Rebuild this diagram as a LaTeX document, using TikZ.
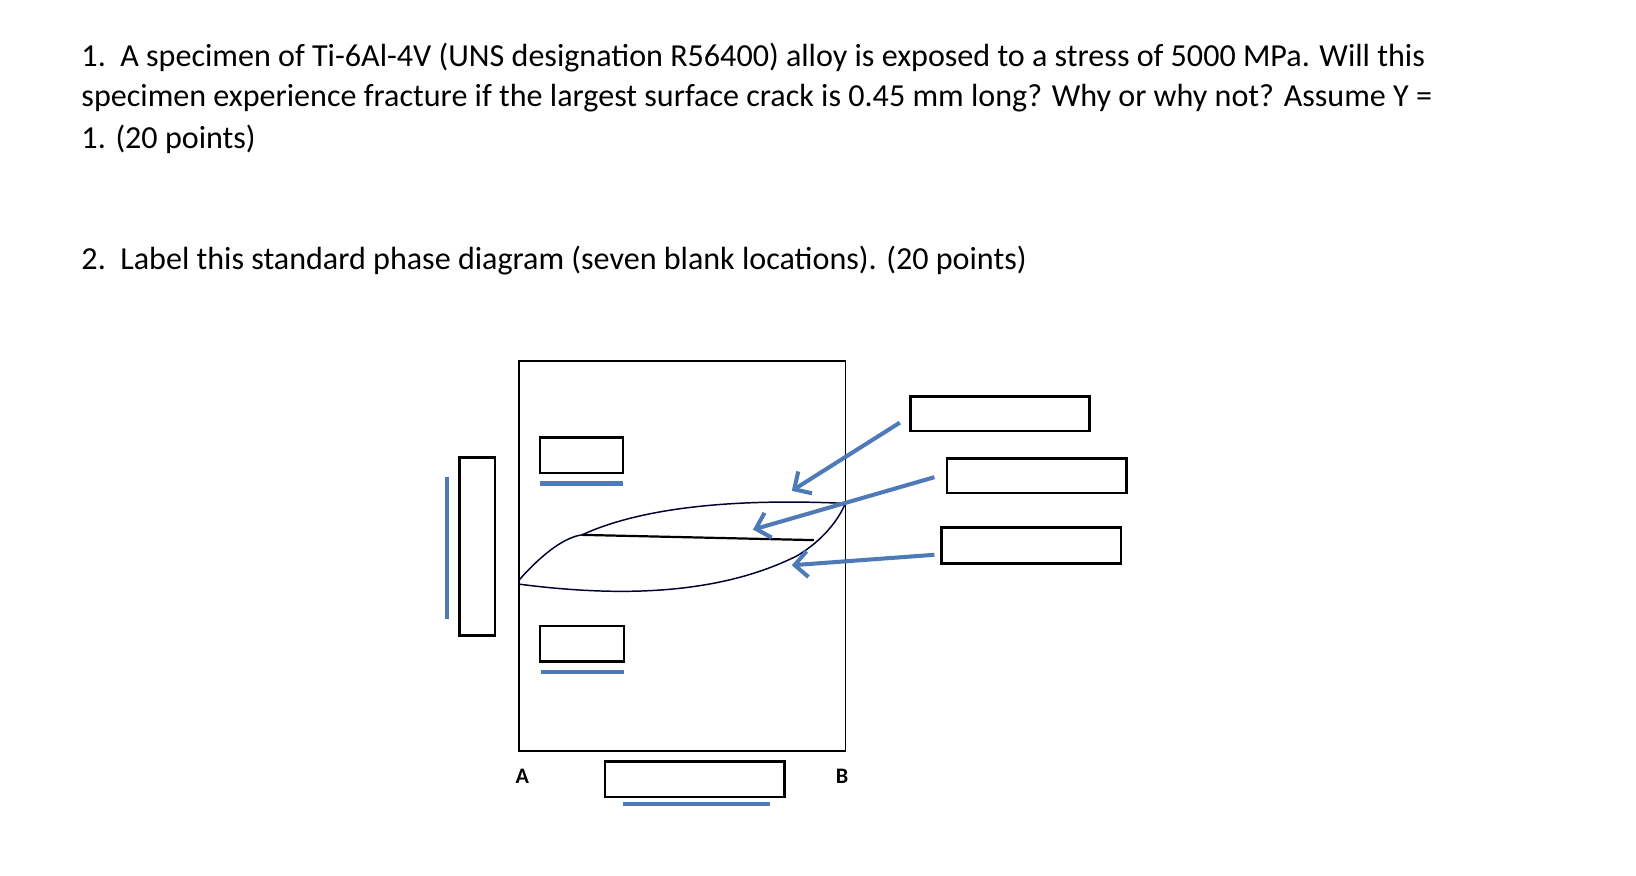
\documentclass[tikz,border=0pt]{standalone}
\usepackage{fontspec}
\setmainfont{Carlito}
\usetikzlibrary{arrows.meta}
\definecolor{bl}{RGB}{79,122,184}
\begin{document}
\begin{tikzpicture}[x=0.01cm,y=-0.01cm,
  lab/.style={draw,line width=0.75pt},
  bline/.style={bl,line width=1.1pt},
  barr/.style={bl,line width=1.1pt,-{Straight Barb[length=3.5pt,width=7pt]}},
  txt/.style={anchor=west,inner sep=0pt,font=\fontsize{8.7}{10}\selectfont}]
\useasboundingbox (0,0) rectangle (1560,835);
\node[txt] (t1) at (77,55) {1.\ \ A specimen of Ti-6Al-4V (UNS designation R56400) alloy is exposed to a stress of 5000 MPa. Will this};
\node[txt] (t2) at (77,94) {specimen experience fracture if the largest surface crack is 0.45 mm long? Why or why not? Assume Y =};
\node[txt] (t3) at (77,133) {1. (20 points)};
\node[txt] (t4) at (77,248) {2.\ \ Label this standard phase diagram (seven blank locations). (20 points)};
\draw[line width=0.4pt] (495,344) rectangle (806,716);
\draw[lab] (515,417) rectangle (594,451);
\draw[bline] (515,461) -- (594,461);
\draw[lab] (515,597) rectangle (595,631);
\draw[bline] (516,641) -- (595,641);
\draw[lab] (438,436) rectangle (472,606);
\draw[bline] (426,455) -- (426,590);
\draw[lab] (577,726) rectangle (748,760);
\draw[bline] (594,767) -- (734,767);
\node[font=\bfseries\fontsize{6}{7}\selectfont] (A) at (498,740) {A};
\node[font=\bfseries\fontsize{6}{7}\selectfont] (B) at (803,740) {B};
\draw[lab] (868,378) rectangle (1039,411);
\draw[lab] (903,437) rectangle (1074,470);
\draw[lab] (898,503) rectangle (1069,537);
\coordinate (pa) at (495,553);
\coordinate (pb) at (806,480);
\draw[line width=0.4pt,black!80!blue] (pa) .. controls (520,525) and (540,512) .. (555,510)
  .. controls (620,480) and (720,476) .. (pb);
\draw[line width=0.4pt,black!80!blue] (495,557) .. controls (580,568) and (680,570) .. (760,530)
  .. controls (785,515) and (800,495) .. (pb);
\draw[line width=0.6pt] (555,510) -- (776,515);
\coordinate (s1) at (858,403); \coordinate (e1) at (755,468);
\coordinate (s2) at (891,455); \coordinate (e2) at (718,505);
\coordinate (s3) at (891,529); \coordinate (e3) at (755,539);
\draw[barr] (s1) -- (e1);
\draw[barr] (s2) -- (e2);
\draw[barr] (s3) -- (e3);
\end{tikzpicture}
\end{document}
